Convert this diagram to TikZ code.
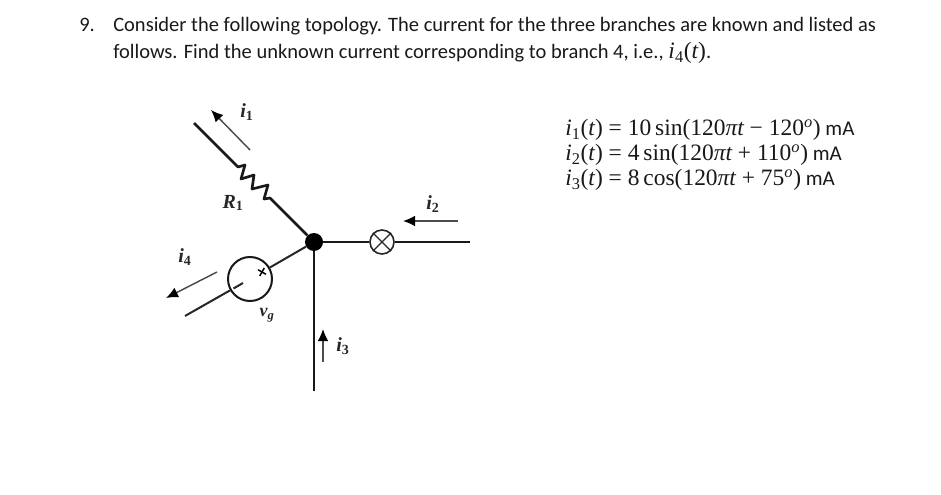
\documentclass[tikz,border=0pt]{standalone}
\usepackage{fontspec}
\setmainfont{Carlito}
\newfontfamily\lblfont{Liberation Serif}
\newfontfamily\eqfont{Liberation Serif}
\usetikzlibrary{arrows.meta,calc}
\newcommand{\iv}[1]{{\itshape i}\textsubscript{#1}({\itshape t})}
\newcommand{\pit}{{\itshape πt}}
\newcommand{\dg}{\textsuperscript{\itshape o}}
\newcommand{\eqsize}{\fontsize{17.6}{19}\selectfont}
\tikzset{
  wire/.style={line width=2pt,black!90},
  thinwire/.style={line width=1.5pt,black!85},
  curarrow/.style={line width=1.1pt,black!70,-{Latex[length=9pt,width=8pt,black]}},
  lbl/.style={inner sep=0pt,font=\lblfont\fontsize{15}{17}\selectfont\bfseries\itshape,text=black!85},
  txt/.style={inner sep=0pt,anchor=base west,font=\fontsize{15.37}{18}\selectfont,text=black!90},
  eqn/.style={inner sep=0pt,anchor=base west,font=\fontsize{15.8}{18}\selectfont,text=black!90}
}
\begin{document}
\begin{tikzpicture}[x=0.75pt,y=-0.75pt]
\useasboundingbox (0,0) rectangle (941,495);
\node[txt] (num) at (79,32) {9.};
\node[txt] (l1) at (113,32) {Consider the following topology. The current for the three branches are known and listed as};
\node[txt] (l2) at (113,59) {follows. Find the unknown current corresponding to branch 4, i.e., {\eqfont\eqsize\iv{4}}.};

\node[eqn] (e1) at (565,136) {{\eqfont\eqsize\iv{1} = 10\,sin(120\pit{} − 120\dg)} mA};
\node[eqn] (e2) at (565,161) {{\eqfont\eqsize\iv{2} = 4\,sin(120\pit{} + 110\dg)} mA};
\node[eqn] (e3) at (565,186) {{\eqfont\eqsize\iv{3} = 8\,cos(120\pit{} + 75\dg)} mA};

\node[circle,fill=black,inner sep=0pt,minimum size=13.5pt] (j) at (314,242) {};
\coordinate (r1end) at (194,123);
\coordinate (r1a) at (238,167);
\coordinate (r1b) at (270,198);
\coordinate (end2) at (470,242);
\coordinate (end3) at (314,391);
\coordinate (end4) at (185,316);
\node[circle,draw=black!85,line width=1.2pt,inner sep=0pt,minimum size=18pt] (meter) at (382,242) {};
\node[circle,draw=black!90,line width=1.5pt,inner sep=0pt,minimum size=33pt] (src) at (250,279) {};

\draw[wire,line join=round] (r1end) -- (r1a)
  -- ++(7,-2) -- ++(-4,14) -- ++(13,-4) -- ++(-2,14) -- ++(16,-4) -- ++(-4,14) -- (r1b) -- (j);
\draw[wire] (j) -- (meter);
\draw[wire] (meter) -- (end2);
\draw[wire] (j) -- (end3);
\draw[thinwire] (j) -- (src);
\draw[thinwire] (end4) -- (src);
\draw[black!85,line width=0.9pt] (meter.north west) -- (meter.south east);
\draw[black!85,line width=0.9pt] (meter.north east) -- (meter.south west);
\coordinate (dashA) at (243,283);
\coordinate (dashB) at (233.5,288.5);
\draw[thinwire] (dashA) -- (dashB);
\coordinate (plus) at (262,272);
\draw[black,line width=1.1pt] ($(plus)+(-4,-2.3)$) -- ($(plus)+(4,2.3)$) ($(plus)+(2.3,-4)$) -- ($(plus)+(-2.3,4)$);

\coordinate (a1s) at (250,150);\coordinate (a1e) at (211,110);
\coordinate (a2s) at (458,221);\coordinate (a2e) at (403,221);
\coordinate (a3s) at (323,362);\coordinate (a3e) at (323,329);
\coordinate (a4s) at (217,272);\coordinate (a4e) at (166,298);
\draw[curarrow] (a1s) -- (a1e);
\draw[curarrow] (a2s) -- (a2e);
\draw[curarrow] (a3s) -- (a3e);
\draw[curarrow] (a4s) -- (a4e);

\node[lbl] (i1) at (247,112) {i\textsubscript{\upshape 1}};
\node[lbl] (i2) at (433,204) {i\textsubscript{\upshape 2}};
\node[lbl] (i3) at (343,346) {i\textsubscript{\upshape 3}};
\node[lbl] (i4) at (185,257) {i\textsubscript{\upshape 4}};
\node[lbl] (r1) at (233,203) {R\textsubscript{\upshape 1}};
\node[lbl,font=\lblfont\fontsize{13.5}{15}\selectfont\bfseries\itshape] (vg) at (267,315) {v\textsubscript{g}};
\end{tikzpicture}
\end{document}
